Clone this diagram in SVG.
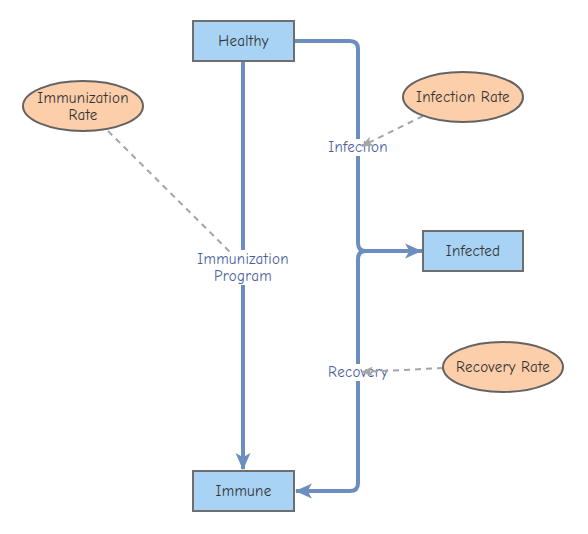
<svg xmlns="http://www.w3.org/2000/svg" width="588" height="534" viewBox="0 0 588 534">
<style>
.box{fill:#a8d3f5;stroke:#6e6e6e;stroke-width:2}
.ell{fill:#fdceaa;stroke:#636363;stroke-width:2}
.t{font-family:"Comic Neue","Liberation Sans",sans-serif;font-size:15px;letter-spacing:0.3px;fill:#333;text-anchor:middle;dominant-baseline:central}
.lbl{font-family:"Comic Neue","Liberation Sans",sans-serif;font-size:15px;letter-spacing:0.3px;fill:#4a5e9c;text-anchor:middle;dominant-baseline:central}
.flow{fill:none;stroke:#6c8ebf;stroke-width:4;stroke-linejoin:round}
.dash{fill:none;stroke:#a6a6a6;stroke-width:2;stroke-dasharray:6 5}
</style>
<defs>
<marker id="blue" viewBox="0 0 16 16" refX="15" refY="8" markerWidth="17" markerHeight="17" orient="auto" markerUnits="userSpaceOnUse">
<path d="M0,1 L16,8 L0,15 L4,8 Z" fill="#6c8ebf"/>
</marker>
<marker id="gray" viewBox="0 0 12 12" refX="11" refY="6" markerWidth="12" markerHeight="12" orient="auto" markerUnits="userSpaceOnUse">
<path d="M0,1 L12,6 L0,11 L3,6 Z" fill="#a6a6a6"/>
</marker>
</defs>
<g id="connectors">
<path class="flow" d="M294,41 H350 Q358,41 358,49 V243 Q358,251 366,251 H421" marker-end="url(#blue)"/>
<path class="flow" d="M423,251 H366 Q358,251 358,259 V483 Q358,491 350,491 H296" marker-end="url(#blue)"/>
<path class="flow" d="M243,61 V469" marker-end="url(#blue)"/>
<rect x="326" y="139" width="64" height="17" fill="#fff"/>
<text class="lbl" x="358" y="147">Infection</text>
<rect x="196" y="250" width="94" height="35" fill="#fff"/>
<text class="lbl" x="243" y="259">Immunization</text>
<text class="lbl" x="243" y="276">Program</text>
<rect x="327" y="364" width="62" height="17" fill="#fff"/>
<text class="lbl" x="358" y="372">Recovery</text>
<path class="dash" d="M423,116 L362,146" marker-end="url(#gray)"/>
<path class="dash" d="M108,131 L230,252"/>
<path class="dash" d="M443,368 L362,372" marker-end="url(#gray)"/>
</g>
<g id="healthy"><rect class="box" x="193" y="21" width="101" height="40"/><text class="t" x="243.5" y="41">Healthy</text></g>
<g id="infected"><rect class="box" x="423" y="231" width="100" height="40"/><text class="t" x="473" y="251">Infected</text></g>
<g id="immune"><rect class="box" x="193" y="471" width="101" height="40"/><text class="t" x="243.5" y="491">Immune</text></g>
<g id="immunization-rate"><ellipse class="ell" cx="83" cy="106" rx="60" ry="25"/><text class="t" x="83" y="98">Immunization</text><text class="t" x="83" y="115">Rate</text></g>
<g id="infection-rate"><ellipse class="ell" cx="463" cy="97" rx="60" ry="25"/><text class="t" x="463" y="97">Infection Rate</text></g>
<g id="recovery-rate"><ellipse class="ell" cx="503" cy="367" rx="60" ry="25"/><text class="t" x="503" y="367">Recovery Rate</text></g>
</svg>
